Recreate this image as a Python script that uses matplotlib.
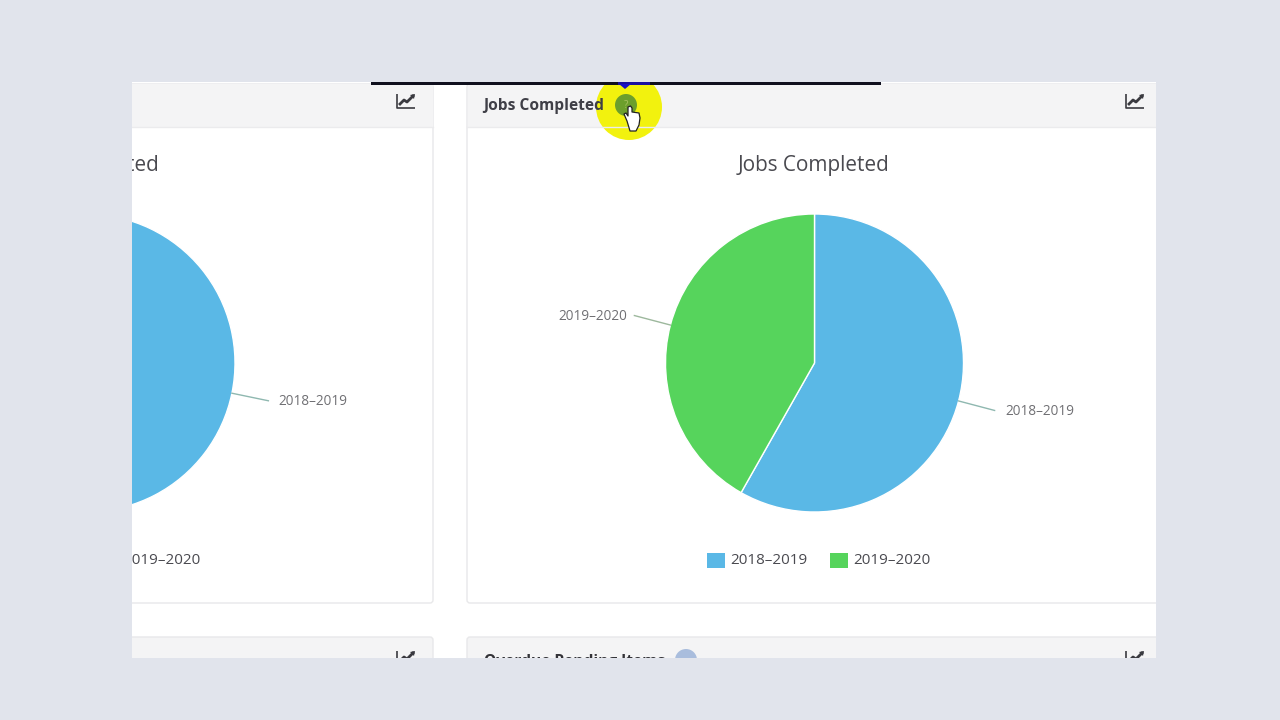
import numpy as np
import matplotlib
matplotlib.use("Agg")
import matplotlib.pyplot as plt
from matplotlib.patches import Rectangle, Circle, Polygon, FancyBboxPatch

plt.rcParams['font.family'] = ['Open Sans', 'DejaVu Sans']

# ---- data ----
categories = ['2018–2019', '2019–2020']
left_values = [56.5, 43.5]
right_values = [58.2, 41.8]
colors = ['#5AB8E6', '#56D45C']
chart_title = 'Jobs Completed'
header_title = 'Jobs Completed'
lower_header = 'Overdue Pending Items'

BG = '#E1E4EC'
TXT = '#4A4A50'
LBL = '#707074'

fig = plt.figure(figsize=(12.8, 7.2), dpi=100, facecolor=BG)
page = fig.add_axes([0, 0, 1, 1], zorder=1)
page.set_xlim(0, 1280)
page.set_ylim(720, 0)
page.axis('off')

view = Rectangle((132, 82), 1024, 576, transform=page.transData, fc='none', ec='none')
page.add_patch(view)
yellow_view = Rectangle((132, 84), 1024, 574, transform=page.transData, fc='none', ec='none')
page.add_patch(yellow_view)


def clip(a, box=view):
    a.set_clip_path(box)
    a.set_clip_on(True)
    return a


def add(p, box=view):
    page.add_patch(p)
    return clip(p, box)


def hline(xs, ys, **kw):
    line, = page.plot(xs, ys, **kw)
    return clip(line)


def px(fs):
    return fs * 0.72


add(Rectangle((132, 82), 1024, 576, fc='white', ec='none'))

# cards
for x0, x1 in [(60, 433), (467, 1190)]:
    add(FancyBboxPatch((x0, 84), x1 - x0, 519, boxstyle='round,pad=0,rounding_size=3',
                       fc='white', ec='#E8E8EA', lw=1.0))
    add(Rectangle((x0 + .5, 84), x1 - x0 - 1, 43, fc='#F4F4F5', ec='none'))
    hline([x0, x1], [127, 127], color='#EBEBED', lw=1)
    add(FancyBboxPatch((x0, 637), x1 - x0, 60, boxstyle='round,pad=0,rounding_size=3',
                       fc='#F4F4F5', ec='#E8E8EA', lw=1.0))


def trend_icon(x, y):
    c = '#3A3A40'
    hline([x, x, x + 18], [y - 7, y + 7, y + 7], color=c, lw=1.2, solid_capstyle='butt')
    hline([x + 3, x + 7, x + 10, x + 16], [y + 3, y - 1, y + 1, y - 5], color=c, lw=2)
    add(Polygon([[x + 13, y - 6], [x + 18, y - 7], [x + 17, y - 2]], fc=c, ec='none'))


for ix in (397, 1126):
    trend_icon(ix, 101)
    trend_icon(ix, 658)

# highlight
add(Circle((629, 107), 33, fc='#F2F20E', ec='none'), yellow_view)
# top dark bar and marker
page.add_patch(Rectangle((371, 81.5), 510, 3, fc='#10101E', ec='none', zorder=3))
page.add_patch(Rectangle((618, 81.5), 32, 3, fc='#1A10A0', ec='none', zorder=3))
page.add_patch(Polygon([[619, 84], [631, 84], [625, 89]], fc='#1A10C8', ec='none', zorder=3))
page.add_patch(Circle((626, 105), 11, fc='#6C9F2C', ec='none', zorder=3))
page.text(626, 105, '?', color='#A8C060', fontsize=px(10), ha='center', va='center', zorder=4)

hand = [[627, 121], [624, 114], [626, 113], [628, 116], [628, 107], [630.5, 106], [632, 108],
        [632, 112], [639, 113], [640, 118], [639, 125], [636, 131], [630, 131]]
page.add_patch(Polygon(hand, fc='white', ec='#222222', lw=0.9, zorder=5, joinstyle='round'))

page.text(483, 106, header_title, color='#3F3F47', fontsize=px(15.5), fontweight='bold', va='center', zorder=2)

# lower header clipped text and badge
clip(page.text(484, 662, lower_header, color='#333338', fontsize=px(15.5), fontweight='bold', va='center'))
add(Circle((686, 660), 11, fc='#A9BDDD', ec='none'))


# ---- pies ----
R = 149
PAD = 1.35


def draw_pie(cx, cy, values, title_cx, legend_dx, labelled):
    size = 2 * R * PAD
    ax = fig.add_axes([(cx - size / 2) / 1280, 1 - (cy + size / 2) / 720, size / 1280, size / 720], zorder=2)
    ax.patch.set_alpha(0)
    wedges, _ = ax.pie(values, colors=colors, startangle=90, counterclock=False, radius=1,
                       wedgeprops=dict(edgecolor='white', linewidth=1.0))
    ax.set_xlim(-PAD, PAD)
    ax.set_ylim(-PAD, PAD)
    ax.axis('off')
    for w in wedges:
        clip(w)
    for w, name in zip(wedges, categories):
        if name not in labelled:
            continue
        a = np.deg2rad((w.theta1 + w.theta2) / 2)
        ca, sa = np.cos(a), np.sin(a)
        xe, ye = 1.25 * ca, 1.25 * sa
        line, = ax.plot([ca, xe], [sa, ye], color='#8FB8B0' if ca > 0 else '#9DB89D', lw=1.0)
        clip(line)
        tx = xe + (0.07 if ca > 0 else -0.05)
        clip(ax.text(tx, ye - 0.007, name, fontsize=px(13.6), color=LBL,
                     ha='left' if ca > 0 else 'right', va='center'))
    clip(page.text(title_cx, 166, chart_title, fontsize=px(20.8), color=TXT, ha='center', va='center'))
    xs = [707 + legend_dx, 830 + legend_dx]
    for x, c, name in zip(xs, colors, categories):
        add(Rectangle((x, 553), 17.5, 14.5, fc=c, ec='none'))
        clip(page.text(x + 23.5, 560.5, name, fontsize=px(15.2), color=TXT, va='center'))


draw_pie(86, 363, left_values, 84, -730, categories[:1])
draw_pie(814.5, 363, right_values, 814, 0, categories)

fig.savefig('out.png', dpi=100, facecolor=BG)
